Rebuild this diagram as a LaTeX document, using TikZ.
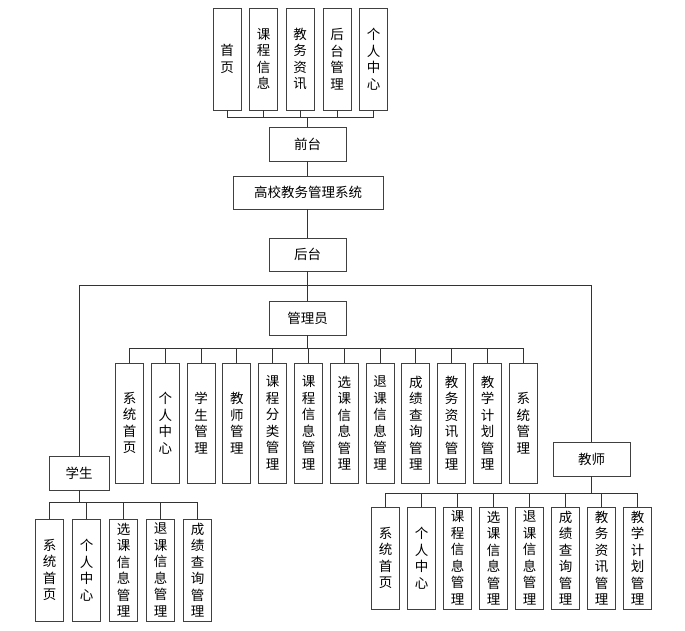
\documentclass[tikz,border=0pt]{standalone}
\usepackage{fontspec}
\newfontfamily\cjk{Noto Sans CJK SC}
\begin{document}
\begin{tikzpicture}[x=1pt,y=-1pt,
  box/.style={draw=black!75,line width=0.9pt,inner sep=0pt,font=\cjk\fontsize{13.5}{16.5}\selectfont,align=center},
  vbox/.style={box,minimum width=28pt},
  hbox/.style={box,minimum height=34pt},
  conn/.style={draw=black!80,line width=0.9pt}]
\useasboundingbox (0,0) rectangle (685,630);
% top
\node[vbox,minimum height=102pt] (t1) at (227,59) {首\\页};
\node[vbox,minimum height=102pt] (t2) at (263.5,59) {课\\程\\信\\息};
\node[vbox,minimum height=102pt] (t3) at (300,59) {教\\务\\资\\讯};
\node[vbox,minimum height=102pt] (t4) at (337,59) {后\\台\\管\\理};
\node[vbox,minimum height=102pt] (t5) at (373.5,59) {个\\人\\中\\心};
\node[hbox,minimum width=77pt] (qt) at (307.5,144) {前台};
\node[hbox,minimum width=150pt,minimum height=33pt] (sys) at (308,192.5) {高校教务管理系统};
\node[hbox,minimum width=77pt,minimum height=33pt] (ht) at (307.5,254.5) {后台};
\node[hbox,minimum width=77pt] (adm) at (307.5,318) {管理员};
\node[hbox,minimum width=60pt] (stu) at (79,473) {学生};
\node[hbox,minimum width=77pt] (tea) at (591.5,459) {教师};
% admin children
\foreach \t [count=\i] in {系\\统\\首\\页,个\\人\\中\\心,学\\生\\管\\理,教\\师\\管\\理,课\\程\\分\\类\\管\\理,课\\程\\信\\息\\管\\理,选\\课\\信\\息\\管\\理,退\\课\\信\\息\\管\\理,成\\绩\\查\\询\\管\\理,教\\务\\资\\讯\\管\\理,教\\学\\计\\划\\管\\理,系\\统\\管\\理}
  \node[vbox,minimum height=120pt] (a\i) at ({129.5+(\i-1)*35.8},423) {\t};
% student children
\foreach \t [count=\i] in {系\\统\\首\\页,个\\人\\中\\心,选\\课\\信\\息\\管\\理,退\\课\\信\\息\\管\\理,成\\绩\\查\\询\\管\\理}
  \node[vbox,minimum height=102pt] (s\i) at ({49.5+(\i-1)*37},570) {\t};
% teacher children
\foreach \t [count=\i] in {系\\统\\首\\页,个\\人\\中\\心,课\\程\\信\\息\\管\\理,选\\课\\信\\息\\管\\理,退\\课\\信\\息\\管\\理,成\\绩\\查\\询\\管\\理,教\\务\\资\\讯\\管\\理,教\\学\\计\\划\\管\\理}
  \node[vbox,minimum height=102pt] (c\i) at ({385.5+(\i-1)*36},558) {\t};
% connectors
\coordinate (tb) at (307.5,117);
\foreach \i in {1,...,5} \draw[conn] (t\i.south) |- (tb);
\draw[conn] (tb) -- (qt.north);
\draw[conn] (qt.south) -- (qt.south |- sys.north);
\draw[conn] (sys.south -| ht.north) -- (ht.north);
\coordinate (hb) at (307.5,285);
\draw[conn] (ht.south) -- (hb);
\draw[conn] (hb) -| (stu.north);
\draw[conn] (hb) -| (tea.north);
\draw[conn] (hb) -- (adm.north);
\coordinate (ab) at (307.5,348);
\draw[conn] (adm.south) -- (ab);
\foreach \i in {1,...,12} \draw[conn] (ab) -| (a\i.north);
\coordinate (sb) at (79,502);
\draw[conn] (stu.south) -- (sb);
\foreach \i in {1,...,5} \draw[conn] (sb) -| (s\i.north);
\coordinate (cb) at (591.5,493);
\draw[conn] (tea.south) -- (cb);
\foreach \i in {1,...,8} \draw[conn] (cb) -| (c\i.north);
\end{tikzpicture}
\end{document}
